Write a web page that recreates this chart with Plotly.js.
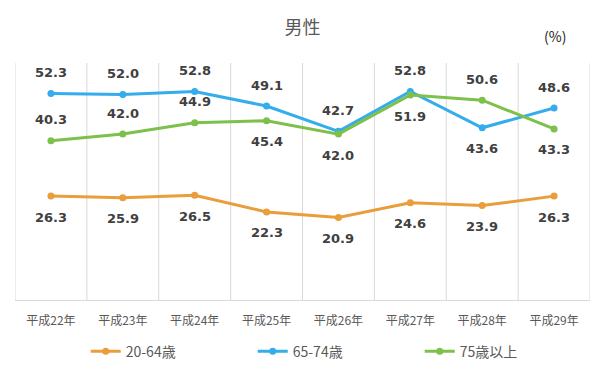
<!DOCTYPE html>
<html>
<head>
<meta charset="utf-8">
<script src="https://cdn.plot.ly/plotly-3.0.1.min.js"></script>
<style>
  html, body { margin: 0; padding: 0; background: #fff; }
  #chart { width: 605px; height: 378px; }
</style>
</head>
<body>
<div id="chart"></div>
<script>
// ---- data ----
const categories = ['平成22年', '平成23年', '平成24年', '平成25年', '平成26年', '平成27年', '平成28年', '平成29年'];
const seriesNames = ['20-64歳', '65-74歳', '75歳以上'];
const age20to64 = [26.3, 25.9, 26.5, 22.3, 20.9, 24.6, 23.9, 26.3];
const age65to74 = [52.3, 52.0, 52.8, 49.1, 42.7, 52.8, 43.6, 48.6];
const age75plus = [40.3, 42.0, 44.9, 45.4, 42.0, 51.9, 50.6, 43.3];

// label placement: 1 = above the point, -1 = below
const place20to64 = [-1, -1, -1, -1, -1, -1, -1, -1];
const place65to74 = [1, 1, 1, 1, 1, 1, -1, 1];
const place75plus = [1, 1, 1, -1, -1, -1, 1, -1];

const colors = ['#E99D3B', '#35ACEB', '#7DC04A'];
const allSeries = [age20to64, age65to74, age75plus];
const allPlace = [place20to64, place65to74, place75plus];

const xIdx = categories.map((_, i) => i);

const traces = allSeries.map((vals, s) => ({
  type: 'scatter',
  mode: 'lines+markers',
  name: seriesNames[s],
  x: xIdx,
  y: vals,
  line: { color: colors[s], width: 3 },
  marker: { color: colors[s], size: 7 },
  hoverinfo: 'skip'
}));

const annotations = [];
allSeries.forEach((vals, s) => {
  vals.forEach((v, i) => {
    annotations.push({
      x: xIdx[i], y: v, xref: 'x', yref: 'y',
      text: v.toFixed(1),
      showarrow: false,
      yshift: allPlace[s][i] * 21,
      font: { family: 'DejaVu Sans', size: 13, color: '#404040', weight: 'bold' }
    });
  });
});
annotations.push({
  xref: 'paper', yref: 'paper', x: 0.939, y: 1.115,
  xanchor: 'center', yanchor: 'middle',
  text: '(%)', showarrow: false,
  font: { family: 'Noto Sans CJK JP', size: 14, color: '#222222' }
});

const shapes = [];
for (let i = 0; i <= categories.length; i++) {
  shapes.push({
    type: 'line', xref: 'x', yref: 'paper',
    x0: i - 0.5, x1: i - 0.5, y0: 0, y1: 1,
    line: { color: '#D9D9D9', width: 1 },
    layer: 'below'
  });
}

const layout = {
  width: 605, height: 378,
  margin: { l: 15, r: 15, t: 63, b: 77 },
  paper_bgcolor: '#ffffff',
  plot_bgcolor: '#ffffff',
  title: {
    text: '男性',
    font: { family: 'Noto Sans CJK JP', size: 18, color: '#595959' },
    x: 0.5, xref: 'paper', y: 0.927, yref: 'container', yanchor: 'middle'
  },
  xaxis: {
    type: 'linear',
    range: [-0.5, categories.length - 0.5],
    tickmode: 'array',
    tickvals: xIdx,
    ticktext: categories,
    showgrid: false,
    zeroline: false,
    showline: true,
    linecolor: '#D9D9D9',
    linewidth: 1,
    ticks: '',
    ticklabelstandoff: 10,
    tickfont: { family: 'Noto Sans CJK JP', size: 12, color: '#595959' },
    fixedrange: true
  },
  yaxis: {
    range: [0, 60],
    visible: false,
    showgrid: false,
    zeroline: false,
    fixedrange: true
  },
  showlegend: true,
  legend: {
    orientation: 'h',
    x: 0.123, xanchor: 'left',
    y: -0.213, yanchor: 'middle',
    entrywidth: 122,
    font: { family: 'Noto Sans CJK JP', size: 14, color: '#595959' },
    bgcolor: 'rgba(0,0,0,0)'
  },
  annotations: annotations,
  shapes: shapes,
  hovermode: false
};

Plotly.newPlot('chart', traces, layout, { displayModeBar: false, staticPlot: true });
</script>
</body>
</html>
